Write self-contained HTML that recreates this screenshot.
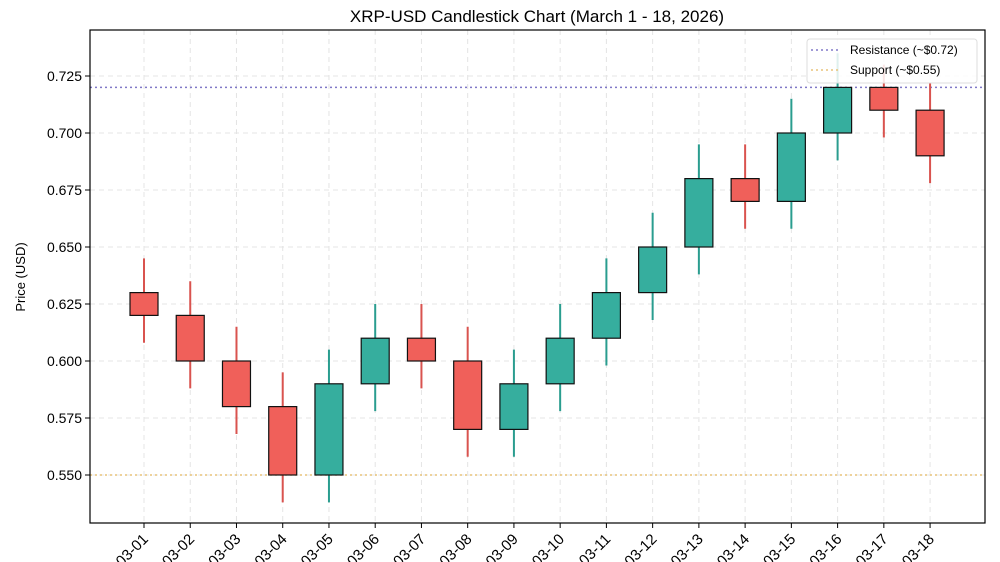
<!DOCTYPE html>
<html><head><meta charset="utf-8"><style>
html,body{margin:0;padding:0;background:#fff;font-family:"Liberation Sans",sans-serif;width:1000px;height:562px;overflow:hidden;}
svg{display:block;overflow:hidden;}
svg text{font-family:"Liberation Sans",sans-serif;fill:#000;}
</style></head><body>
<svg id="chart" width="1000" height="562" xmlns="http://www.w3.org/2000/svg">
<defs><clipPath id="clipBottom"><rect x="0" y="0" width="1000" height="562"/></clipPath></defs>
<rect width="1000" height="562" fill="#fff"/>
<text x="537" y="22" text-anchor="middle" font-size="17">XRP-USD Candlestick Chart (March 1 - 18, 2026)</text>
<text transform="translate(25,277) rotate(-90)" text-anchor="middle" font-size="13">Price (USD)</text>
<g id="grid"></g><g id="lines"></g><g id="candles"></g><g id="axes"></g>
<g id="xlabels" clip-path="url(#clipBottom)"></g>
<g>
<rect x="807" y="39" width="170" height="44" rx="3" fill="#fff" fill-opacity="0.85" stroke="#ddd"/>
<line x1="811" y1="50" x2="840" y2="50" stroke="#8078c8" stroke-width="1.5" stroke-dasharray="2,3"/>
<text x="850" y="54" font-size="12">Resistance (~$0.72)</text>
<line x1="811" y1="70" x2="840" y2="70" stroke="#e8c47a" stroke-width="1.5" stroke-dasharray="2,3"/>
<text x="850" y="74" font-size="12">Support (~$0.55)</text>
</g>
</svg>
<script>
const dates=["2026-03-01","2026-03-02","2026-03-03","2026-03-04","2026-03-05","2026-03-06","2026-03-07","2026-03-08","2026-03-09","2026-03-10","2026-03-11","2026-03-12","2026-03-13","2026-03-14","2026-03-15","2026-03-16","2026-03-17","2026-03-18"];
const opens=[0.63,0.62,0.60,0.58,0.55,0.59,0.61,0.60,0.57,0.59,0.61,0.63,0.65,0.68,0.67,0.70,0.72,0.71];
const closes=[0.62,0.60,0.58,0.55,0.59,0.61,0.60,0.57,0.59,0.61,0.63,0.65,0.68,0.67,0.70,0.72,0.71,0.69];
const highs=[0.645,0.635,0.615,0.595,0.605,0.625,0.625,0.615,0.605,0.625,0.645,0.665,0.695,0.695,0.715,0.735,0.73,0.722];
const lows=[0.608,0.588,0.568,0.538,0.538,0.578,0.588,0.558,0.558,0.578,0.598,0.618,0.638,0.658,0.658,0.688,0.698,0.678];
const yTicks=[0.550,0.575,0.600,0.625,0.650,0.675,0.700,0.725];
const resistance=0.72, support=0.55;
const L=90,R=985,T=30,B=523;
const x=i=>144+i*46.24;
const y=v=>475-(v-0.55)/0.025*57;
const NS="http://www.w3.org/2000/svg";
function mk(p,tag,a){const e=document.createElementNS(NS,tag);for(const k in a)e.setAttribute(k,a[k]);document.getElementById(p).appendChild(e);return e;}
yTicks.forEach(v=>{const g=mk("grid","line",{x1:L,x2:R,y1:y(v),y2:y(v),stroke:"#e4e4e4","stroke-dasharray":"5,4"});

});
dates.forEach((d,i)=>{const g=mk("grid","line",{x1:x(i),x2:x(i),y1:T,y2:B,stroke:"#e4e4e4","stroke-dasharray":"5,4"});

});
const rl=mk("lines","line",{x1:L,x2:R,y1:y(resistance),y2:y(resistance),stroke:"#8078c8","stroke-width":1.5,"stroke-dasharray":"2,3"});


const sl=mk("lines","line",{x1:L,x2:R,y1:y(support),y2:y(support),stroke:"#e8c47a","stroke-width":1.5,"stroke-dasharray":"2,3"});


dates.forEach((d,i)=>{
 const up=closes[i]>=opens[i];
 const wc=up?"#2a9d8f":"#d9534f", fc=up?"#36ae9e":"#f0605a";
 const w=mk("candles","line",{x1:x(i),x2:x(i),y1:y(Math.min(highs[i],0.745)),y2:y(lows[i]),stroke:wc,"stroke-width":2});
 
 
 const top=y(Math.max(opens[i],closes[i])),bot=y(Math.min(opens[i],closes[i]));
 const b=mk("candles","rect",{x:x(i)-14,y:top,width:28,height:bot-top,fill:fc,stroke:"#111","stroke-width":1.2});
 
 
});
const fr=mk("axes","rect",{x:L,y:T,width:R-L,height:B-T,fill:"none",stroke:"#000","stroke-width":1.2});


yTicks.forEach(v=>{mk("axes","line",{x1:L-5,x2:L,y1:y(v),y2:y(v),stroke:"#000"});
 const t=mk("axes","text",{x:L-8,y:y(v)+5,"text-anchor":"end","font-size":14});t.textContent=v.toFixed(3);
 
 });
dates.forEach((d,i)=>{mk("axes","line",{x1:x(i),x2:x(i),y1:B,y2:B+5,stroke:"#000"});
 const t=mk("xlabels","text",{transform:`translate(${x(i)+5},${B+17}) rotate(-45)`,"text-anchor":"end","font-size":15});t.textContent=d;
 
 });
</script>
</body></html>
